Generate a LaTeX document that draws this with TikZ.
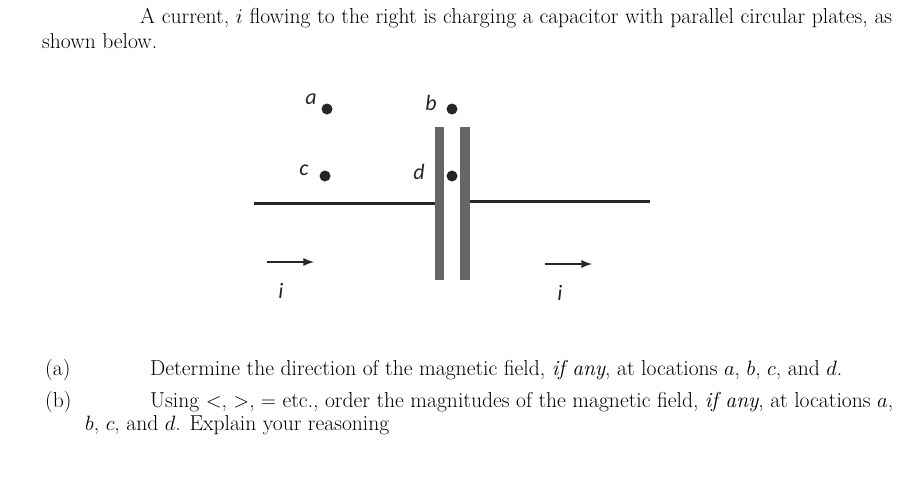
\documentclass[tikz,border=0pt]{standalone}
\usepackage{fontspec}
\newfontfamily\lab{Carlito}
\begin{document}
\begin{tikzpicture}[x=1pt,y=-1pt,
  txt/.style={anchor=west,inner sep=0pt,font=\fontsize{21.6}{24}\selectfont},
  lbl/.style={inner sep=0pt,font=\lab\itshape\fontsize{22}{24}\selectfont,text=black!85},
  dot/.style={circle,fill=black!85,minimum size=11pt,inner sep=0pt},
  wire/.style={line width=3pt,black!85},
  plate/.style={fill=black!60,draw=none},
  cur/.style={line width=2.6pt,black!85,-latex}]
\useasboundingbox (0,0) rectangle (920,488);
\node[txt] (t1) at (140,18) {\makebox[752pt][s]{A current, $i$ flowing to the right is charging a capacitor with parallel circular plates, as}};
\node[txt] (t2) at (42,41) {shown below.};
% diagram
\coordinate (wl0) at (254,203); \coordinate (wl1) at (436,203);
\coordinate (wr0) at (469,201); \coordinate (wr1) at (650,201);
\draw[wire] (wl0) -- (wl1);
\draw[wire] (wr0) -- (wr1);
\fill[plate] (435,127) rectangle (444,280);
\fill[plate] (460,127) rectangle (470,280);
\node[dot] (a) at (327,109) {};
\node[dot] (b) at (452,109) {};
\node[dot] (c) at (325,176) {};
\node[dot] (d) at (452,176) {};
\node[lbl] (la) at (311,99) {a};
\node[lbl] (lb) at (431,103) {b};
\node[lbl] (lc) at (304,170) {c};
\node[lbl] (ld) at (419,172) {d};
\coordinate (al0) at (267,262); \coordinate (al1) at (314,262);
\coordinate (ar0) at (545,264); \coordinate (ar1) at (592,264);
\draw[cur] (al0) -- (al1);
\draw[cur] (ar0) -- (ar1);
\node[lbl] (i1) at (281,291) {i};
\node[lbl] (i2) at (560,293) {i};
% questions
\node[txt] (qa) at (45,370) {(a)};
\node[txt] (qat) at (150,370) {Determine the direction of the magnetic field, \textit{if any}, at locations $a$, $b$, $c$, and $d$.};
\node[txt] (qb) at (45,402) {(b)};
\node[txt] (qbt) at (150,402) {\makebox[743pt][s]{Using $<$, $>$, $=$ etc., order the magnitudes of the magnetic field, \textit{if any}, at locations $a$,}};
\node[txt] (qb2) at (85,425) {$b$, $c$, and $d$. Explain your reasoning};
\end{tikzpicture}
\end{document}
